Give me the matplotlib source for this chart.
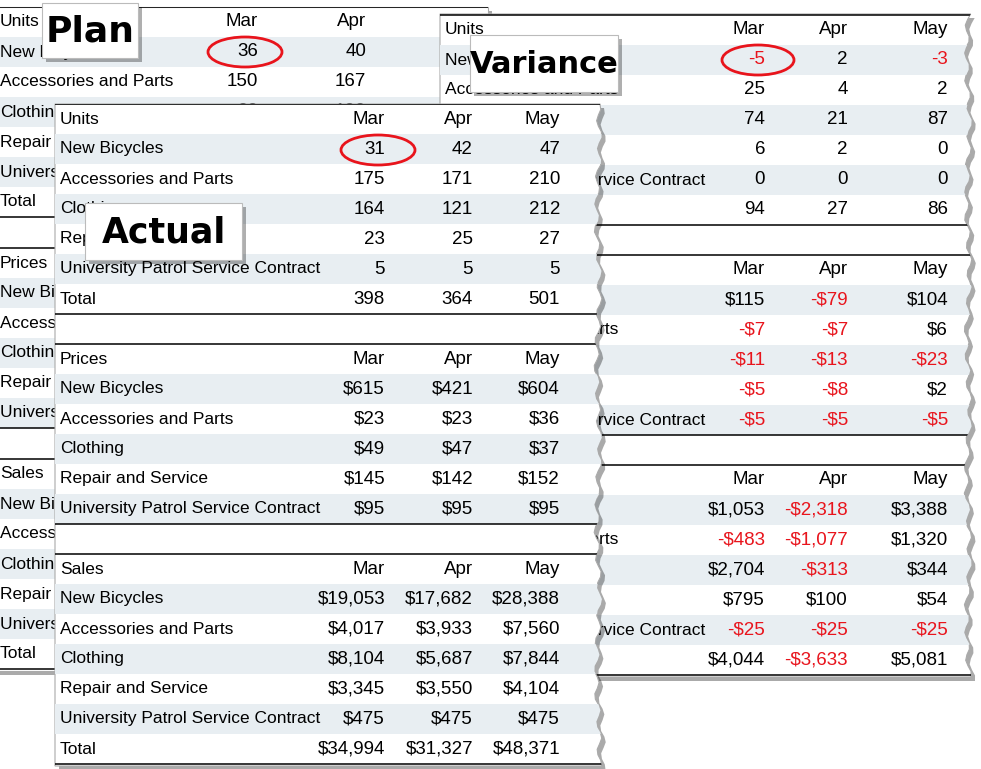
import numpy as np
import matplotlib.pyplot as plt
from matplotlib.patches import Rectangle, Polygon, Ellipse

plt.rcParams["font.family"] = ["Liberation Sans", "DejaVu Sans"]

MONTHS = ["Mar", "Apr", "May"]
PRODUCTS = ["New Bicycles", "Accessories and Parts", "Clothing",
            "Repair and Service", "University Patrol Service Contract"]

# Actual
act_units = [[31, 42, 47], [175, 171, 210], [164, 121, 212], [23, 25, 27], [5, 5, 5], [398, 364, 501]]
act_prices = [[615, 421, 604], [23, 23, 36], [49, 47, 37], [145, 142, 152], [95, 95, 95]]
act_sales = [[19053, 17682, 28388], [4017, 3933, 7560], [8104, 5687, 7844],
             [3345, 3550, 4104], [475, 475, 475], [34994, 31327, 48371]]
# Variance
var_units = [[-5, 2, -3], [25, 4, 2], [74, 21, 87], [6, 2, 0], [0, 0, 0], [94, 27, 86]]
var_prices = [[115, -79, 104], [-7, -7, 6], [-11, -13, -23], [-5, -8, 2], [-5, -5, -5]]
var_sales = [[1053, -2318, 3388], [-483, -1077, 1320], [2704, -313, 344],
             [795, 100, 54], [-25, -25, -25], [4044, -3633, 5081]]
# Plan (only partly visible; May column hidden under the other sheets)
plan_units = [[36, 40], [150, 167], [90, 100], [17, 23], [5, 5], [304, 337]]
plan_prices = [[500, 500], [30, 30], [60, 60], [150, 150], [100, 100]]
plan_sales = [[18000, 20000], [4500, 5010], [5400, 6000],
              [2550, 3450], [500, 500], [30950, 34960]]

STRIPE = "#e8eef2"
RED = "#e8141c"
ROW_H = 30
FS = 13.5
LFS = 12.5


def fmt(v, money):
    s = f"{abs(v):,}"
    if money:
        s = "$" + s
    return ("-" + s) if v < 0 else s


def jag_edge(x, y0, y1, seed):
    ys = np.linspace(y0, y1, 120)
    xs = x + 2.5 * np.sin(ys * 0.9 + seed) + 1.5 * np.sin(ys * 2.3 + seed * 2)
    return list(zip(xs, ys))


def draw_sheet(ax, x0, x1, top, cols, z, jagged, sections, seed=0):
    bottom = top
    for s in sections:
        bottom = s["top"] + s["nrows"] * ROW_H + 2
    pts = [(x0, top)] + ([(x1, top)] + jag_edge(x1, top, bottom, seed) if jagged
                         else [(x1, top), (x1, bottom)]) + [(x0, bottom)]
    shadow = Polygon([(px + 4, py + 4) for px, py in pts], closed=True,
                     facecolor="#00000055", edgecolor="none", zorder=z)
    ax.add_patch(shadow)
    sheet = Polygon(pts, closed=True, facecolor="white", edgecolor="#aaaaaa",
                    linewidth=0.8, zorder=z + 0.1)
    ax.add_patch(sheet)
    for s in sections:
        t = s["top"]
        n = s["nrows"]
        for i in range(1, n, 2):
            r = Rectangle((x0, t + i * ROW_H), x1 - x0 + 6, ROW_H, facecolor=STRIPE,
                          edgecolor="none", zorder=z + 0.2)
            r.set_clip_path(sheet)
            ax.add_patch(r)
        for yy in (t, t + n * ROW_H):
            ln, = ax.plot([x0, x1 + 6], [yy, yy], color="black", lw=1.1, zorder=z + 0.3)
            ln.set_clip_path(sheet)
        labels = [s["header"]] + s["labels"]
        for i, lab in enumerate(labels):
            tx = ax.text(x0 + 5, t + i * ROW_H + ROW_H / 2, lab, fontsize=LFS,
                         va="center", ha="left", zorder=z + 0.4)
            tx.set_clip_path(sheet)
        for j, cx in enumerate(cols):
            tx = ax.text(cx, t + ROW_H / 2, MONTHS[j], fontsize=FS, va="center",
                         ha="right", zorder=z + 0.4)
            tx.set_clip_path(sheet)
            for i, row in enumerate(s["data"]):
                v = row[j]
                tx = ax.text(cx, t + (i + 1) * ROW_H + ROW_H / 2, fmt(v, s["money"]),
                             fontsize=FS, va="center", ha="right",
                             color=RED if v < 0 else "black", zorder=z + 0.4)
                tx.set_clip_path(sheet)


def secs(top, gap, units, prices, sales):
    return [
        dict(top=top, nrows=7, header="Units", labels=PRODUCTS + ["Total"], data=units, money=False),
        dict(top=top + 7 * ROW_H + gap, nrows=6, header="Prices", labels=PRODUCTS, data=prices, money=True),
        dict(top=top + 13 * ROW_H + 2 * gap, nrows=7, header="Sales", labels=PRODUCTS + ["Total"], data=sales, money=True),
    ]


def tag(ax, x, y, w, h, text, z, fs):
    ax.add_patch(Rectangle((x + 4, y + 4), w, h, facecolor="#00000050", edgecolor="none", zorder=z))
    ax.add_patch(Rectangle((x, y), w, h, facecolor="white", edgecolor="#bbbbbb", lw=0.8, zorder=z + 0.1))
    ax.text(x + w / 2, y + h / 2 + 1, text, fontsize=fs, fontweight="bold", family="DejaVu Sans",
            ha="center", va="center", zorder=z + 0.2)


fig = plt.figure(figsize=(9.81, 7.69), dpi=100)
ax = fig.add_axes([0, 0, 1, 1])
ax.set_xlim(0, 981)
ax.set_ylim(769, 0)
ax.axis("off")

draw_sheet(ax, -5, 488, 7, [258, 366], 1, False, secs(7, 31, plan_units, plan_prices, plan_sales))
draw_sheet(ax, 440, 968, 14, [765, 848, 948], 3, True, secs(15, 30, var_units, var_prices, var_sales), seed=1)
draw_sheet(ax, 55, 598, 104, [385, 473, 560], 5, True, secs(104, 30, act_units, act_prices, act_sales), seed=3)

for cx, cy, w, z in [(245, 52, 74, 2), (758, 60, 72, 4), (378, 150, 74, 6)]:
    ax.add_patch(Ellipse((cx, cy), w, 30, fill=False, edgecolor=RED, lw=2, zorder=z))

tag(ax, 42, 3, 96, 55, "Plan", 2, 26)
tag(ax, 470, 35, 148, 57, "Variance", 4, 22)
tag(ax, 85, 203, 157, 57, "Actual", 7, 25)

fig.savefig("out.png", dpi=100)
